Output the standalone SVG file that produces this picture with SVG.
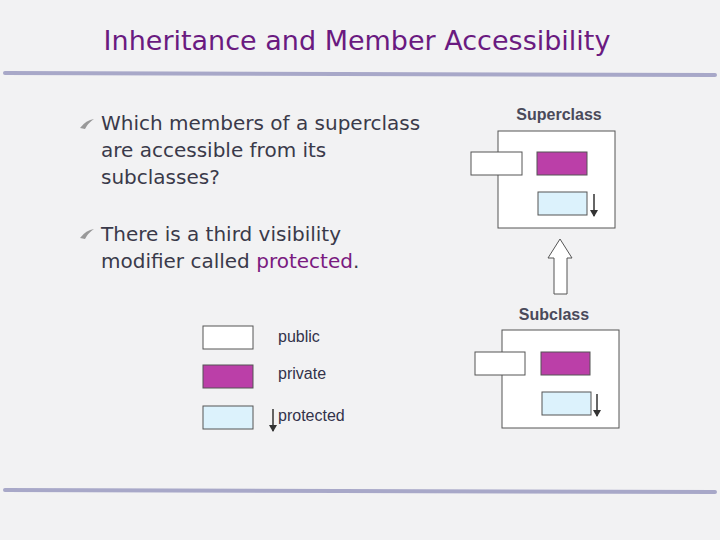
<svg xmlns="http://www.w3.org/2000/svg" width="720" height="540" viewBox="0 0 720 540">
<defs>
<style>
.t{font-family:"DejaVu Sans",sans-serif;font-size:20px;fill:#3a3a4a}
.s{font-family:"Liberation Sans",Arial,sans-serif;font-size:16px;fill:#33334a}
.h{font-family:"Liberation Sans",Arial,sans-serif;font-size:16px;font-weight:bold;fill:#4a4a5a}
.b{fill:#fff;stroke:#555;stroke-width:1}
.pu{fill:#fff;stroke:#555}
.pr{fill:#bb3fa8;stroke:#555}
.pt{fill:#dcf2fc;stroke:#555}
.rule{stroke:#a8a8c8;stroke-width:4;stroke-linecap:round}
</style>
<marker id="ah" markerWidth="8" markerHeight="8" refX="6" refY="4" orient="auto" markerUnits="userSpaceOnUse"><path d="M0,0 L7,4 L0,8 z" fill="#333"/></marker>
</defs>
<rect width="720" height="540" fill="#f2f2f3"/>
<text x="357" y="50" text-anchor="middle" font-family="DejaVu Sans,sans-serif" font-size="27" fill="#6a1a80">Inheritance and Member Accessibility</text>
<line x1="5" y1="73" x2="715" y2="75" class="rule"/>
<line x1="5" y1="490" x2="715" y2="492" class="rule"/>
<g id="bullets">
<path d="M80,128 q6,-8 14,-9 q-6,4 -9,10 z" fill="#999"/>
<path d="M80,238 q6,-8 14,-9 q-6,4 -9,10 z" fill="#999"/>
<text class="t" x="101" y="130">Which members of a superclass</text>
<text class="t" x="101" y="157">are accessible from its</text>
<text class="t" x="101" y="184">subclasses?</text>
<text class="t" x="101" y="241">There is a third visibility</text>
<text class="t" x="101" y="268">modifier called <tspan fill="#7a1a80">protected</tspan>.</text>
</g>
<g id="superclass">
<text class="h" x="559" y="120" text-anchor="middle">Superclass</text>
<rect class="b" x="498" y="131" width="117" height="97"/>
<rect class="pu" x="471" y="152" width="51" height="23"/>
<rect class="pr" x="537" y="152" width="50" height="23"/>
<rect class="pt" x="538" y="192" width="49" height="23"/>
</g>
<g id="subclass">
<text class="h" x="554" y="320" text-anchor="middle">Subclass</text>
<rect class="b" x="502" y="330" width="117" height="98"/>
<rect class="pu" x="475" y="352" width="50" height="23"/>
<rect class="pr" x="541" y="352" width="49" height="23"/>
<rect class="pt" x="542" y="392" width="49" height="23"/>
</g>
<g id="legend">
<rect class="pu" x="203" y="326" width="50" height="23"/>
<rect class="pr" x="203" y="365" width="50" height="23"/>
<rect class="pt" x="203" y="406" width="50" height="23"/>
<text class="s" x="278" y="342">public</text>
<text class="s" x="278" y="379">private</text>
<text class="s" x="278" y="421">protected</text>
</g>
<g id="connectors">
<path d="M554,294 L567,294 L567,258 L572,258 L560,239 L548,258 L554,258 Z" fill="#fff" stroke="#555"/>
<line x1="594" y1="194" x2="594" y2="216" stroke="#333" stroke-width="1.5" marker-end="url(#ah)"/>
<line x1="597" y1="394" x2="597" y2="416" stroke="#333" stroke-width="1.5" marker-end="url(#ah)"/>
<line x1="273" y1="409" x2="273" y2="431" stroke="#333" stroke-width="1.5" marker-end="url(#ah)"/>
</g>
</svg>
